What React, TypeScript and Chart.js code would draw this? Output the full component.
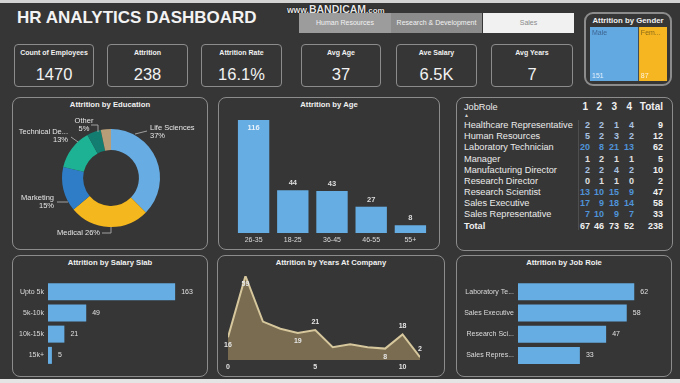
import React, { useEffect, useRef } from "react";
import { Chart, registerables } from "chart.js";

Chart.register(...registerables);

const FONT = "'Liberation Sans', Arial, Helvetica, sans-serif";
Chart.defaults.font.family = FONT;

// ---------------- data ----------------
const kpiLabels = ["Count of Employees", "Attrition", "Attrition Rate", "Avg Age", "Ave Salary", "Avg Years"];
const kpiValues = ["1470", "238", "16.1%", "37", "6.5K", "7"];
const departments = ["Human Resources", "Research & Development", "Sales"];
const selectedDepartment = "Sales";

const genderLabels = ["Male", "Female"];
const genderValues = [151, 87];

const educationLabels = ["Life Sciences", "Medical", "Marketing", "Technical Degree", "Other", "Human Resources"];
const educationValues = [89, 63, 35, 32, 11, 8];

const ageGroups = ["26-35", "18-25", "36-45", "46-55", "55+"];
const ageValues = [116, 44, 43, 27, 8];

const salarySlabs = ["Upto 5k", "5k-10k", "10k-15k", "15k+"];
const salaryValues = [163, 49, 21, 5];

const yearsAtCompany = [0, 1, 2, 3, 4, 5, 6, 7, 8, 9, 10, 11];
const yearsValues = [16, 59, 27, 22, 19, 21, 9, 11, 9, 8, 18, 2];
const yearsLabelled = [0, 1, 4, 5, 9, 10, 11];

const topJobRoles = ["Laboratory Technician", "Sales Executive", "Research Scientist", "Sales Representative"];
const topJobRoleValues = [62, 58, 47, 33];

const tableRoles = [
  "Healthcare Representative",
  "Human Resources",
  "Laboratory Technician",
  "Manager",
  "Manufacturing Director",
  "Research Director",
  "Research Scientist",
  "Sales Executive",
  "Sales Representative",
];
const tableLevels = ["1", "2", "3", "4"];
const level1 = [2, 5, 20, 1, 2, 0, 13, 17, 7];
const level2 = [2, 2, 8, 2, 2, 1, 10, 9, 10];
const level3 = [1, 3, 21, 1, 4, 1, 15, 18, 9];
const level4 = [4, 2, 13, 1, 2, 0, 9, 14, 7];

// ---------------- helpers ----------------
const BG = "#363636";
const BORDER = "#8c8c8c";
const TXT = "#f0f0f0";
const BLUE = "#66ade3";

const measureCanvas = typeof document !== "undefined" ? document.createElement("canvas") : null;
function truncate(text: string, font: string, maxWidth: number) {
  const ctx = measureCanvas!.getContext("2d")!;
  ctx.font = font;
  if (ctx.measureText(text).width <= maxWidth) return text;
  let t = text;
  while (t.length > 1 && ctx.measureText(t + "...").width > maxWidth) t = t.slice(0, -1);
  return t.replace(/\s+$/, "") + "...";
}

function ChartBox(props: { left: number; top: number; width: number; height: number; make: () => any }) {
  const ref = useRef<HTMLCanvasElement>(null);
  useEffect(() => {
    const chart = new Chart(ref.current!, props.make());
    return () => chart.destroy();
  }, []);
  return (
    <canvas
      ref={ref}
      width={props.width}
      height={props.height}
      style={{ position: "absolute", left: props.left, top: props.top, width: props.width, height: props.height }}
    />
  );
}

function Panel(props: { left: number; top: number; width: number; height: number; title?: string; radius?: number; children?: any }) {
  return (
    <div
      style={{
        position: "absolute",
        left: props.left,
        top: props.top,
        width: props.width,
        height: props.height,
        border: `1.5px solid ${BORDER}`,
        borderRadius: props.radius ?? 8,
        boxSizing: "border-box",
      }}
    >
      {props.title && (
        <div
          style={{
            position: "absolute",
            left: 0,
            right: 0,
            top: 2,
            textAlign: "center",
            fontSize: 7.7,
            fontWeight: "bold",
            lineHeight: "10px",
            color: TXT,
          }}
        >
          {props.title}
        </div>
      )}
      {props.children}
    </div>
  );
}

// ---------------- chart configs ----------------
function makeGender() {
  const colors = ["#62a9e2", "#f6b622"];
  const nameColors = ["#3d6590", "#8a6a16"];
  return {
    type: "bar",
    data: {
      labels: ["Attrition"],
      datasets: genderLabels.map((g, i) => ({
        label: g,
        data: [genderValues[i]],
        backgroundColor: colors[i],
        borderColor: "#3a3a3a",
        borderWidth: { right: i === 0 ? 1 : 0 },
        borderSkipped: false,
        barPercentage: 1,
        categoryPercentage: 1,
      })),
    },
    options: {
      indexAxis: "y",
      responsive: false,
      animation: false,
      layout: { padding: 0 },
      plugins: { legend: { display: false }, tooltip: { enabled: false } },
      scales: {
        x: { display: false, stacked: true, min: 0, max: genderValues.reduce((a, b) => a + b, 0) },
        y: { display: false, stacked: true },
      },
    },
    plugins: [
      {
        id: "genderLabels",
        afterDatasetsDraw(chart: any) {
          const ctx = chart.ctx;
          ctx.save();
          chart.data.datasets.forEach((ds: any, i: number) => {
            const bar = chart.getDatasetMeta(i).data[0];
            const left = bar.base;
            const w = bar.x - bar.base;
            const top = bar.y - bar.height / 2;
            const bottom = bar.y + bar.height / 2;
            const f = `7px ${FONT}`;
            ctx.font = f;
            ctx.textAlign = "left";
            ctx.textBaseline = "top";
            ctx.fillStyle = nameColors[i];
            ctx.fillText(truncate(ds.label, f, w - 6), left + 2, top + 3);
            ctx.textBaseline = "bottom";
            ctx.fillStyle = "rgba(255,255,255,0.85)";
            ctx.fillText(String(ds.data[0]), left + 2, bottom - 1);
          });
          ctx.restore();
        },
      },
    ],
  };
}

function makeEducation() {
  const colors = ["#67ace2", "#f4b71d", "#2f7dc6", "#1eb294", "#127d70", "#b89e78"];
  const total = educationValues.reduce((a, b) => a + b, 0);
  // label placement relative to donut centre
  const place: any[] = [
    { x: 39, y: -50, align: "left", split: true, path: [[24, -44], [36, -47]] },
    { x: -11, y: 55, align: "right", split: false, path: [[0, 49], [0, 55], [-9, 55]] },
    { x: -57, y: 20, align: "right", split: true, path: [[-43, 24], [-54, 24]] },
    { x: -43, y: -46, align: "right", split: true, path: [[-33, -36], [-40, -41]] },
    { x: -27, y: -57, align: "center", split: true, path: [[-13, -46], [-13, -53], [-20, -53]] },
    null,
  ];
  return {
    type: "doughnut",
    data: {
      labels: educationLabels,
      datasets: [{ data: educationValues, backgroundColor: colors, borderWidth: 0 }],
    },
    options: {
      responsive: false,
      animation: false,
      cutout: "57%",
      layout: { padding: { left: 50, right: 48, top: 32, bottom: 23 } },
      plugins: { legend: { display: false }, tooltip: { enabled: false } },
    },
    plugins: [
      {
        id: "eduLabels",
        afterDatasetsDraw(chart: any) {
          const ctx = chart.ctx;
          const arc = chart.getDatasetMeta(0).data[0];
          const cx = arc.x;
          const cy = arc.y;
          const f = `7.5px ${FONT}`;
          ctx.save();
          ctx.font = f;
          ctx.textBaseline = "middle";
          educationLabels.forEach((lab, i) => {
            const p = place[i];
            if (!p) return;
            const pct = Math.round((educationValues[i] / total) * 100) + "%";
            const name = truncate(lab, f, 52);
            ctx.strokeStyle = "#a0a0a0";
            ctx.lineWidth = 1;
            ctx.beginPath();
            p.path.forEach((pt: number[], k: number) => {
              if (k === 0) ctx.moveTo(cx + pt[0], cy + pt[1]);
              else ctx.lineTo(cx + pt[0], cy + pt[1]);
            });
            ctx.stroke();
            ctx.fillStyle = "#e6e6e6";
            ctx.textAlign = p.align;
            if (p.split) {
              ctx.fillText(name, cx + p.x, cy + p.y);
              ctx.fillText(pct, cx + p.x, cy + p.y + 8);
            } else {
              ctx.fillText(name + " " + pct, cx + p.x, cy + p.y);
            }
          });
          ctx.restore();
        },
      },
    ],
  };
}

function makeAge() {
  return {
    type: "bar",
    data: {
      labels: ageGroups,
      datasets: [{ data: ageValues, backgroundColor: BLUE, barPercentage: 0.8, categoryPercentage: 1 }],
    },
    options: {
      responsive: false,
      animation: false,
      layout: { padding: { left: 16, right: 10, top: 23, bottom: 0 } },
      plugins: { legend: { display: false }, tooltip: { enabled: false } },
      scales: {
        x: {
          grid: { display: false, drawTicks: false },
          border: { display: false },
          ticks: { color: "#dcdcdc", font: { size: 7 }, padding: 3 },
          afterFit: (s: any) => {
            s.height = 17;
          },
        },
        y: { display: false, min: 0, max: Math.max(...ageValues) },
      },
    },
    plugins: [
      {
        id: "ageLabels",
        afterDatasetsDraw(chart: any) {
          const ctx = chart.ctx;
          ctx.save();
          ctx.font = `bold 7.5px ${FONT}`;
          ctx.textAlign = "center";
          ctx.textBaseline = "middle";
          chart.getDatasetMeta(0).data.forEach((bar: any, i: number) => {
            const inside = bar.base - bar.y > 90;
            ctx.fillStyle = inside ? "#e8f2fb" : "#dedede";
            ctx.fillText(String(ageValues[i]), bar.x, inside ? bar.y + 8 : bar.y - 7);
          });
          ctx.restore();
        },
      },
    ],
  };
}

function makeHBar(labels: string[], values: number[], yWidth: number, max: number, labelMax: number, padRight: number) {
  const f = `7px ${FONT}`;
  return {
    type: "bar",
    data: {
      labels,
      datasets: [{ data: values, backgroundColor: BLUE, barPercentage: 0.8, categoryPercentage: 1 }],
    },
    options: {
      indexAxis: "y",
      responsive: false,
      animation: false,
      layout: { padding: { left: 0, right: padRight, top: 26, bottom: 11 } },
      plugins: { legend: { display: false }, tooltip: { enabled: false } },
      scales: {
        x: { display: false, min: 0, max },
        y: {
          grid: { display: false, drawTicks: false },
          border: { display: false },
          ticks: {
            color: "#dcdcdc",
            font: { size: 7 },
            padding: 4,
            callback: (_v: any, i: number) => truncate(labels[i], f, labelMax),
          },
          afterFit: (s: any) => {
            s.width = yWidth;
          },
        },
      },
    },
    plugins: [
      {
        id: "hbarLabels",
        afterDatasetsDraw(chart: any) {
          const ctx = chart.ctx;
          ctx.save();
          ctx.font = `7px ${FONT}`;
          ctx.textAlign = "left";
          ctx.textBaseline = "middle";
          ctx.fillStyle = "#e0e0e0";
          chart.getDatasetMeta(0).data.forEach((bar: any, i: number) => {
            ctx.fillText(String(values[i]), bar.x + 6, bar.y);
          });
          ctx.restore();
        },
      },
    ],
  };
}

function makeYears() {
  const maxV = Math.max(...yearsValues);
  return {
    type: "line",
    data: {
      datasets: [
        {
          data: yearsAtCompany.map((x, i) => ({ x, y: yearsValues[i] })),
          borderColor: "#d6c79d",
          borderWidth: 2,
          backgroundColor: "#7a6c50",
          fill: "origin",
          pointRadius: 0,
          tension: 0,
        },
      ],
    },
    options: {
      responsive: false,
      animation: false,
      layout: { padding: { left: 11, right: 25, top: 21, bottom: 0 } },
      plugins: { legend: { display: false }, tooltip: { enabled: false } },
      scales: {
        x: {
          type: "linear",
          min: 0,
          max: yearsAtCompany[yearsAtCompany.length - 1],
          grid: { display: false, drawTicks: false },
          border: { display: false },
          ticks: { color: "#e2e2e2", font: { size: 7, weight: "bold" }, padding: 3, stepSize: 5 },
          afterBuildTicks: (axis: any) => {
            axis.ticks = axis.ticks.filter((t: any) => t.value % 5 === 0);
          },
          afterFit: (s: any) => {
            s.height = 17;
          },
        },
        y: { display: false, min: 0, max: maxV },
      },
    },
    plugins: [
      {
        id: "yearLabels",
        afterDatasetsDraw(chart: any) {
          const ctx = chart.ctx;
          const pts = chart.getDatasetMeta(0).data;
          ctx.save();
          ctx.font = `bold 7px ${FONT}`;
          ctx.textAlign = "center";
          ctx.textBaseline = "middle";
          ctx.fillStyle = "#e6e6e6";
          yearsLabelled.forEach((i) => {
            const v = yearsValues[i];
            const prev = i > 0 ? yearsValues[i - 1] : -Infinity;
            const next = i < yearsValues.length - 1 ? yearsValues[i + 1] : -Infinity;
            let above = v > prev && v > next;
            if (v === maxV) above = false;
            if (v < 4) above = true;
            const p = pts[i];
            ctx.fillText(String(v), p.x, above ? p.y - 8 : p.y + 8);
          });
          ctx.restore();
        },
      },
    ],
  };
}

// ---------------- layout ----------------
const kpiBoxes = [
  { left: 14, width: 80 },
  { left: 107, width: 81 },
  { left: 201, width: 81 },
  { left: 301, width: 80 },
  { left: 396, width: 81 },
  { left: 491, width: 82 },
];
const slicerBoxes = [
  { left: 299, width: 92, bg: "#9c9c9c" },
  { left: 391, width: 91, bg: "#8c8c8c" },
  { left: 483, width: 91, bg: "#f1f1f1" },
];

export default function App() {
  const levels = [level1, level2, level3, level4];
  const rowTotals = tableRoles.map((_, r) => levels.reduce((s, l) => s + l[r], 0));
  const colTotals = levels.map((l) => l.reduce((a, b) => a + b, 0));
  const grand = rowTotals.reduce((a, b) => a + b, 0);
  const colRight = [590, 604, 619, 634];
  const rowY = (r: number) => 125 + r * 11.18;
  const numColor = (total: number) => (total >= 30 ? "#4f93da" : total >= 9 ? "#a9c2e2" : "#e0e0e0");

  return (
    <div
      style={{
        position: "fixed",
        left: 0,
        top: 0,
        width: 680,
        height: 383,
        background: BG,
        overflow: "hidden",
        fontFamily: FONT,
        color: TXT,
      }}
    >
      <div style={{ position: "absolute", left: 0, top: 0, width: 680, height: 3, background: "#d4d4d4" }} />
      <div style={{ position: "absolute", left: 0, top: 379, width: 680, height: 4, background: "#e4e4e4" }} />

      {/* title */}
      <div
        style={{
          position: "absolute",
          left: 17,
          top: 8,
          fontSize: 17,
          fontWeight: "bold",
          lineHeight: "20px",
          color: "#f3f3f3",
          whiteSpace: "nowrap",
        }}
      >
        HR ANALYTICS DASHBOARD
      </div>

      {/* watermark */}
      <div
        style={{
          position: "absolute",
          left: 287,
          top: 2,
          lineHeight: "11px",
          fontWeight: "bold",
          color: "#e6e6e6",
          whiteSpace: "nowrap",
          textShadow: "0 0 1px #000, 0 0 1px #000",
        }}
      >
        <span style={{ fontSize: 8.5 }}>www.</span>
        <span style={{ fontSize: 10.5 }}>BANDICAM</span>
        <span style={{ fontSize: 8 }}>.com</span>
      </div>

      {/* slicers */}
      {departments.map((d, i) => (
        <div
          key={d}
          style={{
            position: "absolute",
            left: slicerBoxes[i].left,
            top: 13,
            width: slicerBoxes[i].width,
            height: 20,
            background: slicerBoxes[i].bg,
            color: d === selectedDepartment ? "#8a8a8a" : "#f2f2f2",
            fontSize: 7,
            lineHeight: "20px",
            textAlign: "center",
            whiteSpace: "nowrap",
          }}
        >
          {d}
        </div>
      ))}

      {/* KPI cards */}
      {kpiLabels.map((l, i) => (
        <div
          key={l}
          style={{
            position: "absolute",
            left: kpiBoxes[i].left,
            top: 44,
            width: kpiBoxes[i].width,
            height: 43,
            border: `1.5px solid ${BORDER}`,
            borderRadius: 4,
            boxSizing: "border-box",
          }}
        >
          <div
            style={{
              position: "absolute",
              left: 0,
              right: 0,
              top: 3,
              textAlign: "center",
              fontSize: 7,
              fontWeight: "bold",
              lineHeight: "10px",
              whiteSpace: "nowrap",
            }}
          >
            {l}
          </div>
          <div
            style={{
              position: "absolute",
              left: 0,
              right: 0,
              top: 18,
              textAlign: "center",
              fontSize: 16.5,
              lineHeight: "22px",
              color: "#f2f2f2",
            }}
          >
            {kpiValues[i]}
          </div>
        </div>
      ))}

      {/* gender */}
      <div
        style={{
          position: "absolute",
          left: 584,
          top: 12,
          width: 88,
          height: 74,
          border: `2px solid ${BORDER}`,
          borderRadius: 9,
          boxSizing: "border-box",
        }}
      >
        <div
          style={{
            position: "absolute",
            left: 0,
            right: 0,
            top: 2,
            textAlign: "center",
            fontSize: 7.8,
            fontWeight: "bold",
            lineHeight: "10px",
            whiteSpace: "nowrap",
          }}
        >
          Attrition by Gender
        </div>
      </div>
      <ChartBox left={590} top={27} width={77} height={54} make={makeGender} />

      {/* middle row */}
      <Panel left={12} top={97} width={196} height={153} title="Attrition by Education" />
      <ChartBox left={12} top={97} width={196} height={153} make={makeEducation} />

      <Panel left={218} top={97} width={222} height={153} title="Attrition by Age" />
      <ChartBox left={218} top={97} width={222} height={153} make={makeAge} />

      <Panel left={456} top={97} width={217} height={154} />
      <div style={{ position: "absolute", left: 464, top: 101, fontSize: 9.2, lineHeight: "12px", color: "#ececec" }}>
        JobRole
      </div>
      <div style={{ position: "absolute", left: 464, top: 112, fontSize: 5, lineHeight: "6px", color: "#cfcfcf" }}>▲</div>
      {tableLevels.map((lv, c) => (
        <div
          key={lv}
          style={{
            position: "absolute",
            left: colRight[c] - 20,
            width: 20,
            top: 101,
            textAlign: "right",
            fontSize: 10,
            fontWeight: "bold",
            lineHeight: "12px",
            paddingRight: 2,
            boxSizing: "border-box",
          }}
        >
          {lv}
        </div>
      ))}
      <div
        style={{
          position: "absolute",
          left: 623,
          width: 40,
          top: 101,
          textAlign: "right",
          fontSize: 10,
          fontWeight: "bold",
          lineHeight: "12px",
        }}
      >
        Total
      </div>
      <div style={{ position: "absolute", left: 578, top: 120, width: 1, height: 110, background: "rgba(255,255,255,0.12)" }} />
      {tableRoles.map((role, r) => (
        <React.Fragment key={role}>
          <div
            style={{
              position: "absolute",
              left: 464,
              top: rowY(r) - 6,
              fontSize: 9.2,
              lineHeight: "12px",
              color: "#ececec",
              whiteSpace: "nowrap",
            }}
          >
            {role}
          </div>
          {levels.map((l, c) => (
            <div
              key={c}
              style={{
                position: "absolute",
                left: colRight[c] - 20,
                width: 20,
                top: rowY(r) - 6,
                textAlign: "right",
                fontSize: 9,
                fontWeight: "bold",
                lineHeight: "12px",
                color: numColor(rowTotals[r]),
              }}
            >
              {l[r]}
            </div>
          ))}
          <div
            style={{
              position: "absolute",
              left: 633,
              width: 30,
              top: rowY(r) - 6,
              textAlign: "right",
              fontSize: 9,
              fontWeight: "bold",
              lineHeight: "12px",
              color: "#f2f2f2",
            }}
          >
            {rowTotals[r]}
          </div>
        </React.Fragment>
      ))}
      <div
        style={{
          position: "absolute",
          left: 464,
          top: rowY(tableRoles.length) - 6,
          fontSize: 9.2,
          fontWeight: "bold",
          lineHeight: "12px",
        }}
      >
        Total
      </div>
      {colTotals.map((t, c) => (
        <div
          key={c}
          style={{
            position: "absolute",
            left: colRight[c] - 20,
            width: 20,
            top: rowY(tableRoles.length) - 6,
            textAlign: "right",
            fontSize: 9,
            fontWeight: "bold",
            lineHeight: "12px",
          }}
        >
          {t}
        </div>
      ))}
      <div
        style={{
          position: "absolute",
          left: 633,
          width: 30,
          top: rowY(tableRoles.length) - 6,
          textAlign: "right",
          fontSize: 9,
          fontWeight: "bold",
          lineHeight: "12px",
        }}
      >
        {grand}
      </div>

      {/* bottom row */}
      <Panel left={12} top={255} width={196} height={122} title="Attrition by Salary Slab" />
      <ChartBox
        left={12}
        top={255}
        width={196}
        height={122}
        make={() => makeHBar(salarySlabs, salaryValues, 36, 200, 40, 4)}
      />

      <Panel left={217} top={255} width={228} height={122} title="Attrition by Years At Company" />
      <ChartBox left={217} top={255} width={228} height={122} make={makeYears} />

      <Panel left={456} top={255} width={216} height={122} title="Attrition by Job Role" />
      <ChartBox
        left={456}
        top={255}
        width={216}
        height={122}
        make={() => makeHBar(topJobRoles, topJobRoleValues, 62, 80, 50.5, 4)}
      />
    </div>
  );
}
